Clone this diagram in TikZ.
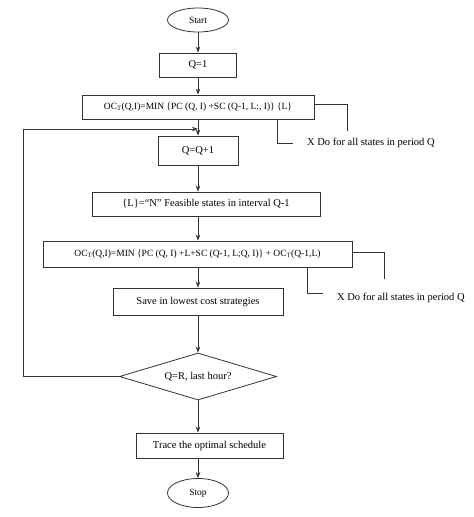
\documentclass[tikz,border=0pt]{standalone}
\usepackage{fontspec}
\setmainfont{Liberation Serif}
\usetikzlibrary{shapes.geometric,arrows.meta}
\tikzset{
  box/.style={draw=black!80, line width=0.8pt, rectangle, inner sep=0pt, font=\fontsize{10.5}{12}\selectfont},
  eqbox/.style={box, font=\fontsize{9.5}{11}\selectfont},
  term/.style={draw=black!80, line width=0.8pt, ellipse, inner sep=0pt, font=\fontsize{9.5}{11}\selectfont},
  decision/.style={draw=black!80, line width=0.8pt, diamond, inner sep=0pt, aspect=3.3, font=\fontsize{10.5}{12}\selectfont},
  flow/.style={draw=black!80, line width=0.8pt, -{Stealth[length=6pt,width=4.5pt]}},
  line/.style={draw=black!80, line width=0.8pt},
  note/.style={anchor=west, inner sep=0pt, font=\fontsize{10.5}{12}\selectfont}
}
\begin{document}
\begin{tikzpicture}[x=1pt,y=-1pt]
\useasboundingbox (0,0) rectangle (474,517);
\node[term, minimum width=61pt, minimum height=24pt] (start) at (198,20) {Start};
\node[box, minimum width=77pt, minimum height=24pt] (q1) at (198,65) {Q=1};
\node[eqbox, minimum width=232pt, minimum height=24pt] (oc1) at (198,107) {OC\textsubscript{T}(Q,I)=MIN \{PC (Q, I) +SC (Q-1, L:, I)\} \{L\}};
\node[box, minimum width=80pt, minimum height=29pt] (qq) at (198,150.5) {Q=Q+1};
\node[box, minimum width=228pt, minimum height=24pt] (lbox) at (206,204) {\{L\}=“N” Feasible states in interval Q-1};
\node[eqbox, minimum width=309pt, minimum height=26pt] (oc2) at (197.5,254) {OC\textsubscript{T}(Q,I)=MIN \{PC (Q, I) +L+SC (Q-1, L;Q, I)\} + OC\textsubscript{T}(Q-1,L)};
\node[box, minimum width=170pt, minimum height=27pt] (save) at (198,301.5) {Save in lowest cost strategies};
\node[decision, minimum width=157pt, minimum height=47pt] (dia) at (198,376.5) {Q=R, last hour?};
\node[box, minimum width=147pt, minimum height=25pt] (trace) at (209.5,445.5) {Trace the optimal schedule};
\node[term, minimum width=61pt, minimum height=29pt] (stop) at (198,493) {Stop};

\coordinate (loopL) at (23,376.5);
\coordinate (join) at (198,129);

\draw[flow] (start.south) -- (start.south |- q1.north);
\draw[flow] (q1.south) -- (q1.south |- oc1.north);
\draw[flow] (oc1.south) -- (qq.north);
\draw[flow] (qq.south) -- (qq.south |- lbox.north);
\draw[flow] (qq.south |- lbox.south) -- (qq.south |- oc2.north);
\draw[flow] (qq.south |- oc2.south) -- (qq.south |- save.north);
\draw[flow] (save.south) -- (dia.north);
\draw[flow] (dia.south) -- (dia.south |- trace.north);
\draw[flow] (dia.south |- trace.south) -- (stop.north);
\draw[flow] (dia.west) -- (loopL) |- (join);

\coordinate (b1a) at (oc1.east |- 0,104);
\draw[line] (b1a) -- ++(33,0) -- ++(0,27);
\coordinate (b1b) at (277,119);
\draw[line] (b1b) -- (277,143) -- (293,143);
\node[note] (n1) at (307,143) {X Do for all states in period Q};

\coordinate (b2a) at (oc2.east |- 0,252);
\draw[line] (b2a) -- ++(32,0) -- ++(0,27);
\coordinate (b2b) at (307,267);
\draw[line] (b2b) -- (307,293) -- (323,293);
\node[note] (n2) at (337,298) {X Do for all states in period Q};
\end{tikzpicture}
\end{document}
